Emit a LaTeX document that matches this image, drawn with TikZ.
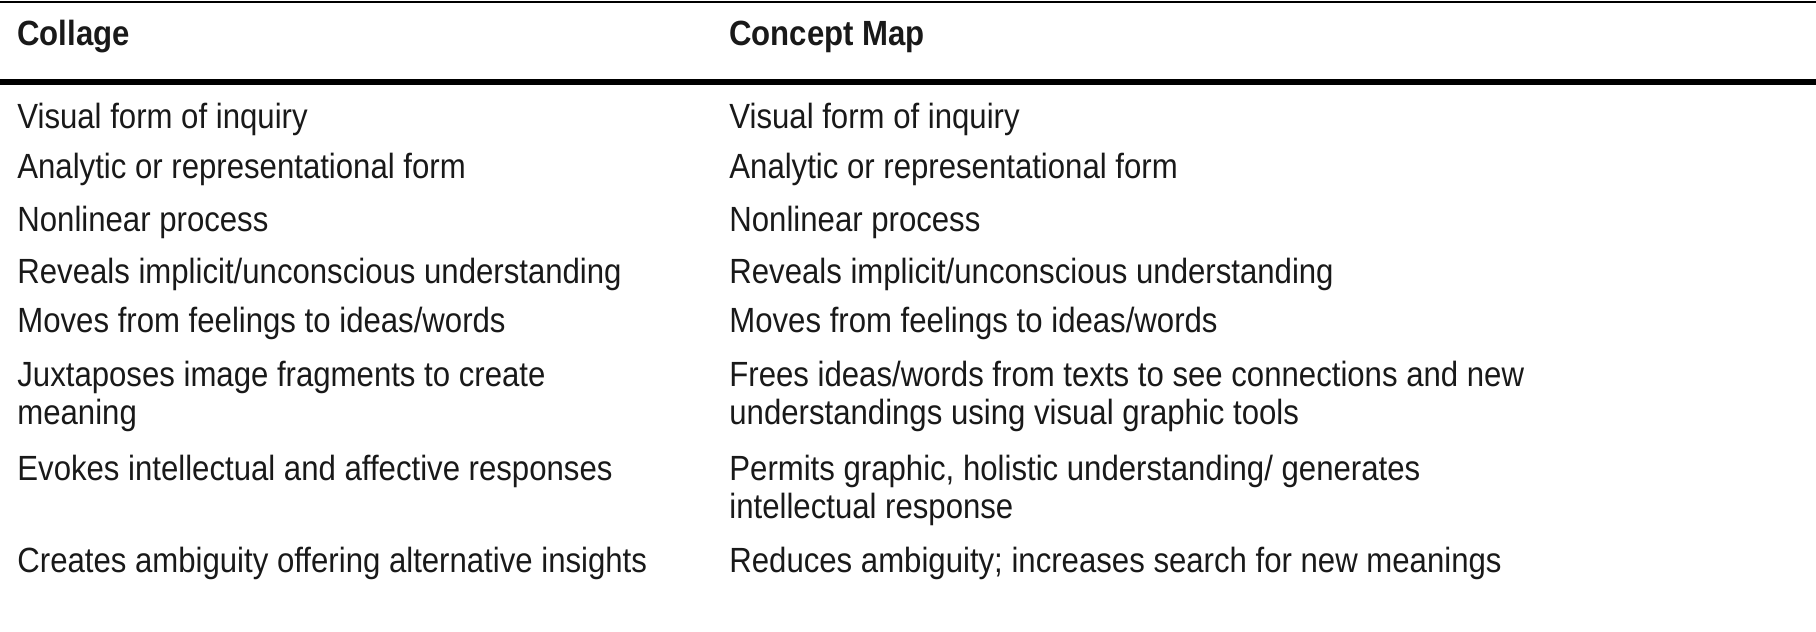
\documentclass[tikz,border=0pt]{standalone}
\usepackage{fontspec}
\setmainfont{Liberation Sans}[FakeStretch=0.89]
\begin{document}
\begin{tikzpicture}[x=0.5pt,y=-0.5pt,
  cell/.style={anchor=mid west,inner sep=0pt,font=\fontsize{17.5}{21}\selectfont,text=black!90},
  head/.style={cell,font=\fontsize{17.5}{21}\selectfont\bfseries}]
\useasboundingbox (0,0) rectangle (1816,632);
\draw[line width=1.2pt] (0,2) -- (1816,2);
\draw[line width=3pt] (0,82) -- (1816,82);
\node[head] (h1) at (17,40) {Collage};
\node[head] (h2) at (729,40) {Concept Map};
\foreach \n/\y/\a/\b in {
 1/123/{Visual form of inquiry}/{Visual form of inquiry},
 2/173/{Analytic or representational form}/{Analytic or representational form},
 3/226/{Nonlinear process}/{Nonlinear process},
 4/278/{Reveals implicit/unconscious understanding}/{Reveals implicit/unconscious understanding},
 5/327/{Moves from feelings to ideas/words}/{Moves from feelings to ideas/words},
 6/381/{Juxtaposes image fragments to create}/{Frees ideas/words from texts to see connections and new},
 7/419/{meaning}/{understandings using visual graphic tools},
 8/475/{Evokes intellectual and affective responses}/{Permits graphic, holistic understanding/ generates},
 9/513/{}/{intellectual response},
 10/567/{Creates ambiguity offering alternative insights}/{Reduces ambiguity; increases search for new meanings}}
{
 \node[cell] (l\n) at (17,\y) {\a};
 \node[cell] (r\n) at (729,\y) {\b};
}
\end{tikzpicture}
\end{document}
